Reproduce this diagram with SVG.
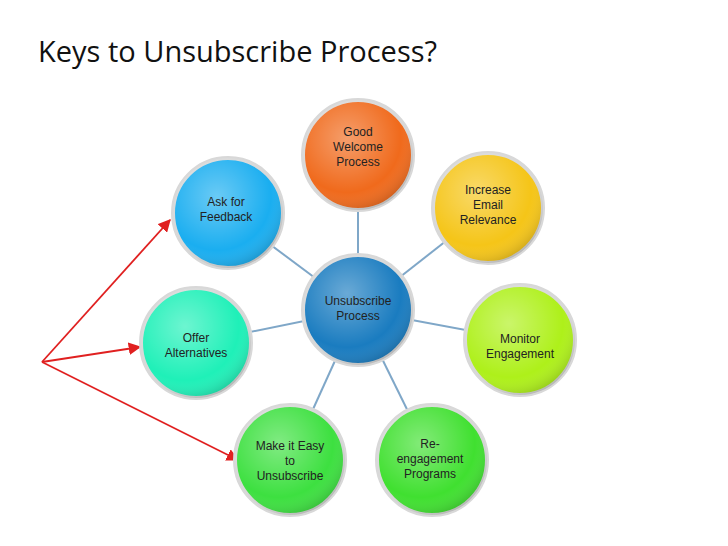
<svg xmlns="http://www.w3.org/2000/svg" width="728" height="546" viewBox="0 0 728 546">
<defs>
<radialGradient id="sh" cx="0.4" cy="0.35" r="0.7"><stop offset="0" stop-color="#fff" stop-opacity="0.35"/><stop offset="0.7" stop-color="#fff" stop-opacity="0"/><stop offset="1" stop-color="#000" stop-opacity="0.2"/></radialGradient>
<marker id="ar" viewBox="0 0 10 10" refX="9" refY="5" markerWidth="7" markerHeight="7" orient="auto"><path d="M0,0L10,5L0,10z" fill="#e02020"/></marker>
</defs>
<style>
.c{stroke:#d8d8d8;stroke-width:4}
.t{font-family:"Liberation Sans",Arial,sans-serif;font-size:12px;fill:#222;text-anchor:middle}
.l{stroke:#7fa7c8;stroke-width:2}
.r{stroke:#e02020;stroke-width:1.8;fill:none;marker-end:url(#ar)}
</style>
<rect width="728" height="546" fill="#fff"/>
<text x="38" y="62" font-family="Open Sans,Liberation Sans,sans-serif" font-size="29" fill="#111">Keys to Unsubscribe Process?</text>
<g id="connectors">
<line class="l" x1="358" y1="310" x2="358" y2="155"/>
<line class="l" x1="358" y1="310" x2="488" y2="208"/>
<line class="l" x1="358" y1="310" x2="520" y2="340"/>
<line class="l" x1="358" y1="310" x2="432" y2="460"/>
<line class="l" x1="358" y1="310" x2="290" y2="460"/>
<line class="l" x1="358" y1="310" x2="196" y2="343"/>
<line class="l" x1="358" y1="310" x2="228" y2="213"/>
<path class="r" d="M42,362L170,220"/>
<path class="r" d="M42,362L140,347"/>
<path class="r" d="M42,362L238,460"/>
</g>
<g id="center"><circle class="c" cx="358" cy="310" r="55" fill="#1a7cc0"/><circle cx="358" cy="310" r="55" fill="url(#sh)"/><text class="t" x="358" y="305">Unsubscribe</text><text class="t" x="358" y="320">Process</text></g>
<g id="good"><circle class="c" cx="358" cy="155" r="55" fill="#f06a1c"/><circle cx="358" cy="155" r="55" fill="url(#sh)"/><text class="t" x="358" y="136">Good</text><text class="t" x="358" y="151">Welcome</text><text class="t" x="358" y="166">Process</text></g>
<g id="increase"><circle class="c" cx="488" cy="208" r="55" fill="#f5c518"/><circle cx="488" cy="208" r="55" fill="url(#sh)"/><text class="t" x="488" y="194">Increase</text><text class="t" x="488" y="209">Email</text><text class="t" x="488" y="224">Relevance</text></g>
<g id="monitor"><circle class="c" cx="520" cy="340" r="55" fill="#aef01a"/><circle cx="520" cy="340" r="55" fill="url(#sh)"/><text class="t" x="520" y="343">Monitor</text><text class="t" x="520" y="358">Engagement</text></g>
<g id="reengage"><circle class="c" cx="432" cy="460" r="55" fill="#40e030"/><circle cx="432" cy="460" r="55" fill="url(#sh)"/><text class="t" x="430" y="448">Re-</text><text class="t" x="430" y="463">engagement</text><text class="t" x="430" y="478">Programs</text></g>
<g id="easy"><circle class="c" cx="290" cy="460" r="55" fill="#3de040"/><circle cx="290" cy="460" r="55" fill="url(#sh)"/><text class="t" x="290" y="450">Make it Easy</text><text class="t" x="290" y="465">to</text><text class="t" x="290" y="480">Unsubscribe</text></g>
<g id="offer"><circle class="c" cx="196" cy="343" r="55" fill="#1ff0b8"/><circle cx="196" cy="343" r="55" fill="url(#sh)"/><text class="t" x="196" y="342">Offer</text><text class="t" x="196" y="357">Alternatives</text></g>
<g id="ask"><circle class="c" cx="228" cy="213" r="55" fill="#1aaef0"/><circle cx="228" cy="213" r="55" fill="url(#sh)"/><text class="t" x="226" y="206">Ask for</text><text class="t" x="226" y="221">Feedback</text></g>
</svg>
